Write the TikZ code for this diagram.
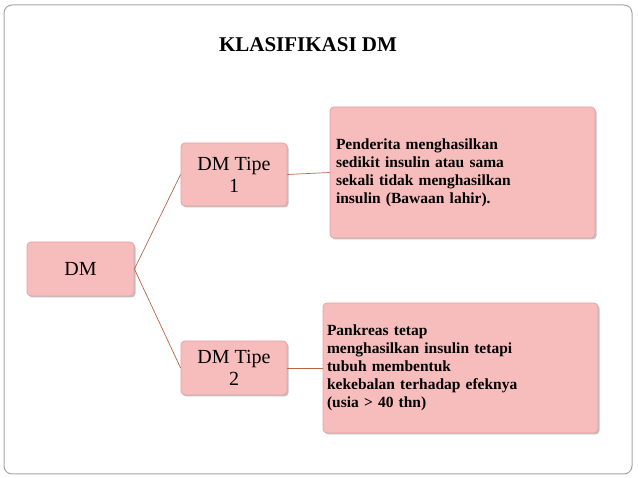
\documentclass[tikz,border=0pt]{standalone}
\usepackage{fontspec}
\setmainfont{Liberation Serif}
\usetikzlibrary{shadows}
\definecolor{pinkfill}{HTML}{F7BDBD}
\definecolor{pinkline}{HTML}{E3A3A3}
\definecolor{conn}{HTML}{B8664A}
\tikzset{
  box/.style={draw=pinkline, fill=pinkfill, rounded corners=4pt, line width=0.8pt,
    drop shadow={shadow xshift=1.5pt, shadow yshift=-1.5pt, fill=black!40, opacity=0.6}},
  small/.style={box, font=\fontsize{20}{22}\selectfont, align=center, inner sep=0pt},
  big/.style={box, font=\bfseries\fontsize{15.5}{18}\selectfont, align=left, inner sep=0pt},
  con/.style={draw=conn, line width=0.7pt}
}
\begin{document}
\begin{tikzpicture}[x=1pt,y=-1pt]
\useasboundingbox (0,0) rectangle (638,478);
\draw[gray!70, line width=1pt, rounded corners=8pt] (4,5) rectangle (632,474);
\node (title) at (308,45) {\bfseries\fontsize{21}{24}\selectfont KLASIFIKASI DM};
\node[small, minimum width=107pt, minimum height=54pt] (dm) at (80.5,269) {DM};
\node[small, minimum width=106pt, minimum height=63pt] (t1) at (234,174.5) {DM Tipe\\1};
\node[small, minimum width=106pt, minimum height=54pt] (t2) at (234,368) {DM Tipe\\2};
\node[big, minimum width=265pt, minimum height=131pt, text width=253pt] (b1) at (462.5,172.5) {Penderita menghasilkan\\sedikit insulin atau sama\\sekali tidak menghasilkan\\insulin (Bawaan lahir).};
\node[big, minimum width=275pt, minimum height=130pt, text width=267pt] (b2) at (460.5,368) {Pankreas tetap\\menghasilkan insulin tetapi\\tubuh membentuk\\kekebalan terhadap efeknya\\(usia > 40 thn)};
\draw[con] (dm.east) -- (t1.west);
\draw[con] (dm.east) -- (t2.west);
\draw[con] (t1.east) -- (b1.west);
\draw[con] (t2.east) -- (b2.west);
\end{tikzpicture}
\end{document}
